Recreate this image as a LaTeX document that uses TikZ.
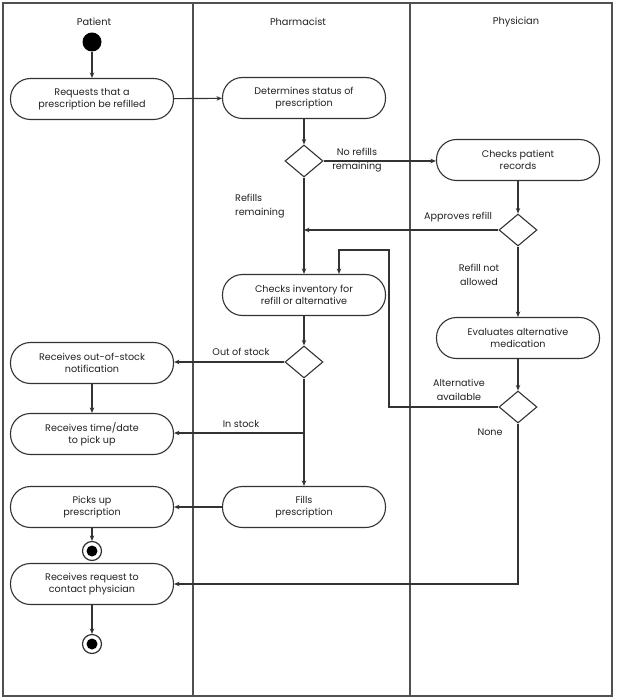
\documentclass[tikz,border=0pt]{standalone}
\usepackage{fontspec}
\setmainfont{Poppins}
\usetikzlibrary{shapes.geometric,arrows.meta}
\definecolor{linec}{HTML}{333333}
\definecolor{framec}{HTML}{505050}
\definecolor{textc}{HTML}{222222}
\begin{document}
\begin{tikzpicture}[x=1pt,y=-1pt,
  act/.style={draw=linec,line width=1.1pt,rounded corners=20pt,minimum width=163pt,minimum height=41pt,align=center,font=\fontsize{9.6}{12.5}\selectfont,text=textc,inner sep=1pt},
  dec/.style={draw=linec,line width=1.1pt,diamond,minimum width=38pt,minimum height=32pt,inner sep=0pt},
  flow/.style={draw=linec,line width=1.1pt,-{Stealth[length=5.5pt,width=4.5pt]}},
  wire/.style={draw=linec,line width=1.1pt},
  lbl/.style={font=\fontsize{9.6}{13.5}\selectfont,text=textc,inner sep=0pt},
  hdr/.style={font=\fontsize{9.8}{12}\selectfont,text=textc,inner sep=0pt},
  endst/.style={circle,draw=linec,line width=1.2pt,minimum size=19pt,inner sep=0pt,
    path picture={\fill[black] (path picture bounding box.center) circle (5.5pt);}}]
\fill[white] (0,0) rectangle (618,700);
\useasboundingbox (0,0) rectangle (618,700);
\draw[framec,line width=1.7pt] (3,3) rectangle (612,696);
\draw[framec,line width=1.7pt] (193,3) -- (193,696) (410,3) -- (410,696);
% headers
\node[hdr] (hP) at (94,22) {Patient};
\node[hdr] (hF) at (298,22) {Pharmacist};
\node[hdr] (hD) at (516,22) {Physician};
% nodes
\node[circle,fill=black,minimum size=19pt,inner sep=0pt] (start) at (92,42) {};
\node[act] (req) at (92,99) {Requests that a\\prescription be refilled};
\node[act] (det) at (304,98) {Determines status of\\prescription};
\node[dec] (d1) at (304,161) {};
\node[act] (chk) at (518,160) {Checks patient\\records};
\node[dec] (d2) at (518,230) {};
\node[act] (inv) at (304,295) {Checks inventory for\\refill or alternative};
\node[act] (eva) at (518,338) {Evaluates alternative\\medication};
\node[dec] (d3) at (518,407) {};
\node[dec] (d4) at (304,362) {};
\node[act] (oos) at (92,363) {Receives out-of-stock\\notification};
\node[act] (tim) at (92,434) {Receives time/date\\to pick up};
\node[act] (pick) at (92,507) {Picks up\\prescription};
\node[act] (fill) at (304,507) {Fills\\prescription};
\node[endst] (e1) at (92,551) {};
\node[act] (con) at (92,584) {Receives request to\\contact physician};
\node[endst] (e2) at (92,644) {};
% connectors
\draw[flow] (start) -- (req);
\draw[flow] (req) -- (det);
\draw[flow] (det) -- (d1);
\draw[flow] (d1.east) -- (d1.east -| chk.west);
\draw[flow] (chk) -- (d2);
\draw[flow] (d2.west) -- (d2.west -| d1.south);
\draw[flow] (d1) -- (inv);
\draw[flow] (d2) -- (eva);
\draw[flow] (eva) -- (d3);
\coordinate (lp1) at (389,407);
\coordinate (lp2) at (389,250);
\coordinate (lp3) at (339,250);
\draw[flow] (d3.west) -- (lp1) -- (lp2) -- (lp3) -- (lp3 |- inv.north);
\draw[flow] (inv) -- (d4);
\draw[flow] (d4.west) -- (d4.west -| oos.east);
\draw[flow] (oos) -- (tim);
\coordinate (br) at (304,433);
\draw[wire] (d4.south) -- (br);
\draw[flow] (br) -- (br -| tim.east);
\draw[flow] (br) -- (fill.north);
\draw[flow] (fill) -- (pick);
\draw[flow] (pick) -- (e1);
\coordinate (nc) at (518,584);
\draw[flow] (d3.south) -- (nc) -- (con.east);
\draw[flow] (con) -- (e2);
% labels
\node[lbl,align=center] (l1) at (357,160) {No refills\\remaining};
\node[lbl,align=left,anchor=west] (l2) at (235,206) {Refills\\remaining};
\node[lbl] (l3) at (458,217) {Approves refill};
\node[lbl,align=center] (l4) at (479,275) {Refill not\\allowed};
\node[lbl,align=center] (l5) at (459,390) {Alternative\\available};
\node[lbl] (l6) at (490,432) {None};
\node[lbl] (l7) at (241,352) {Out of stock};
\node[lbl] (l8) at (241,424) {In stock};
\end{tikzpicture}
\end{document}
